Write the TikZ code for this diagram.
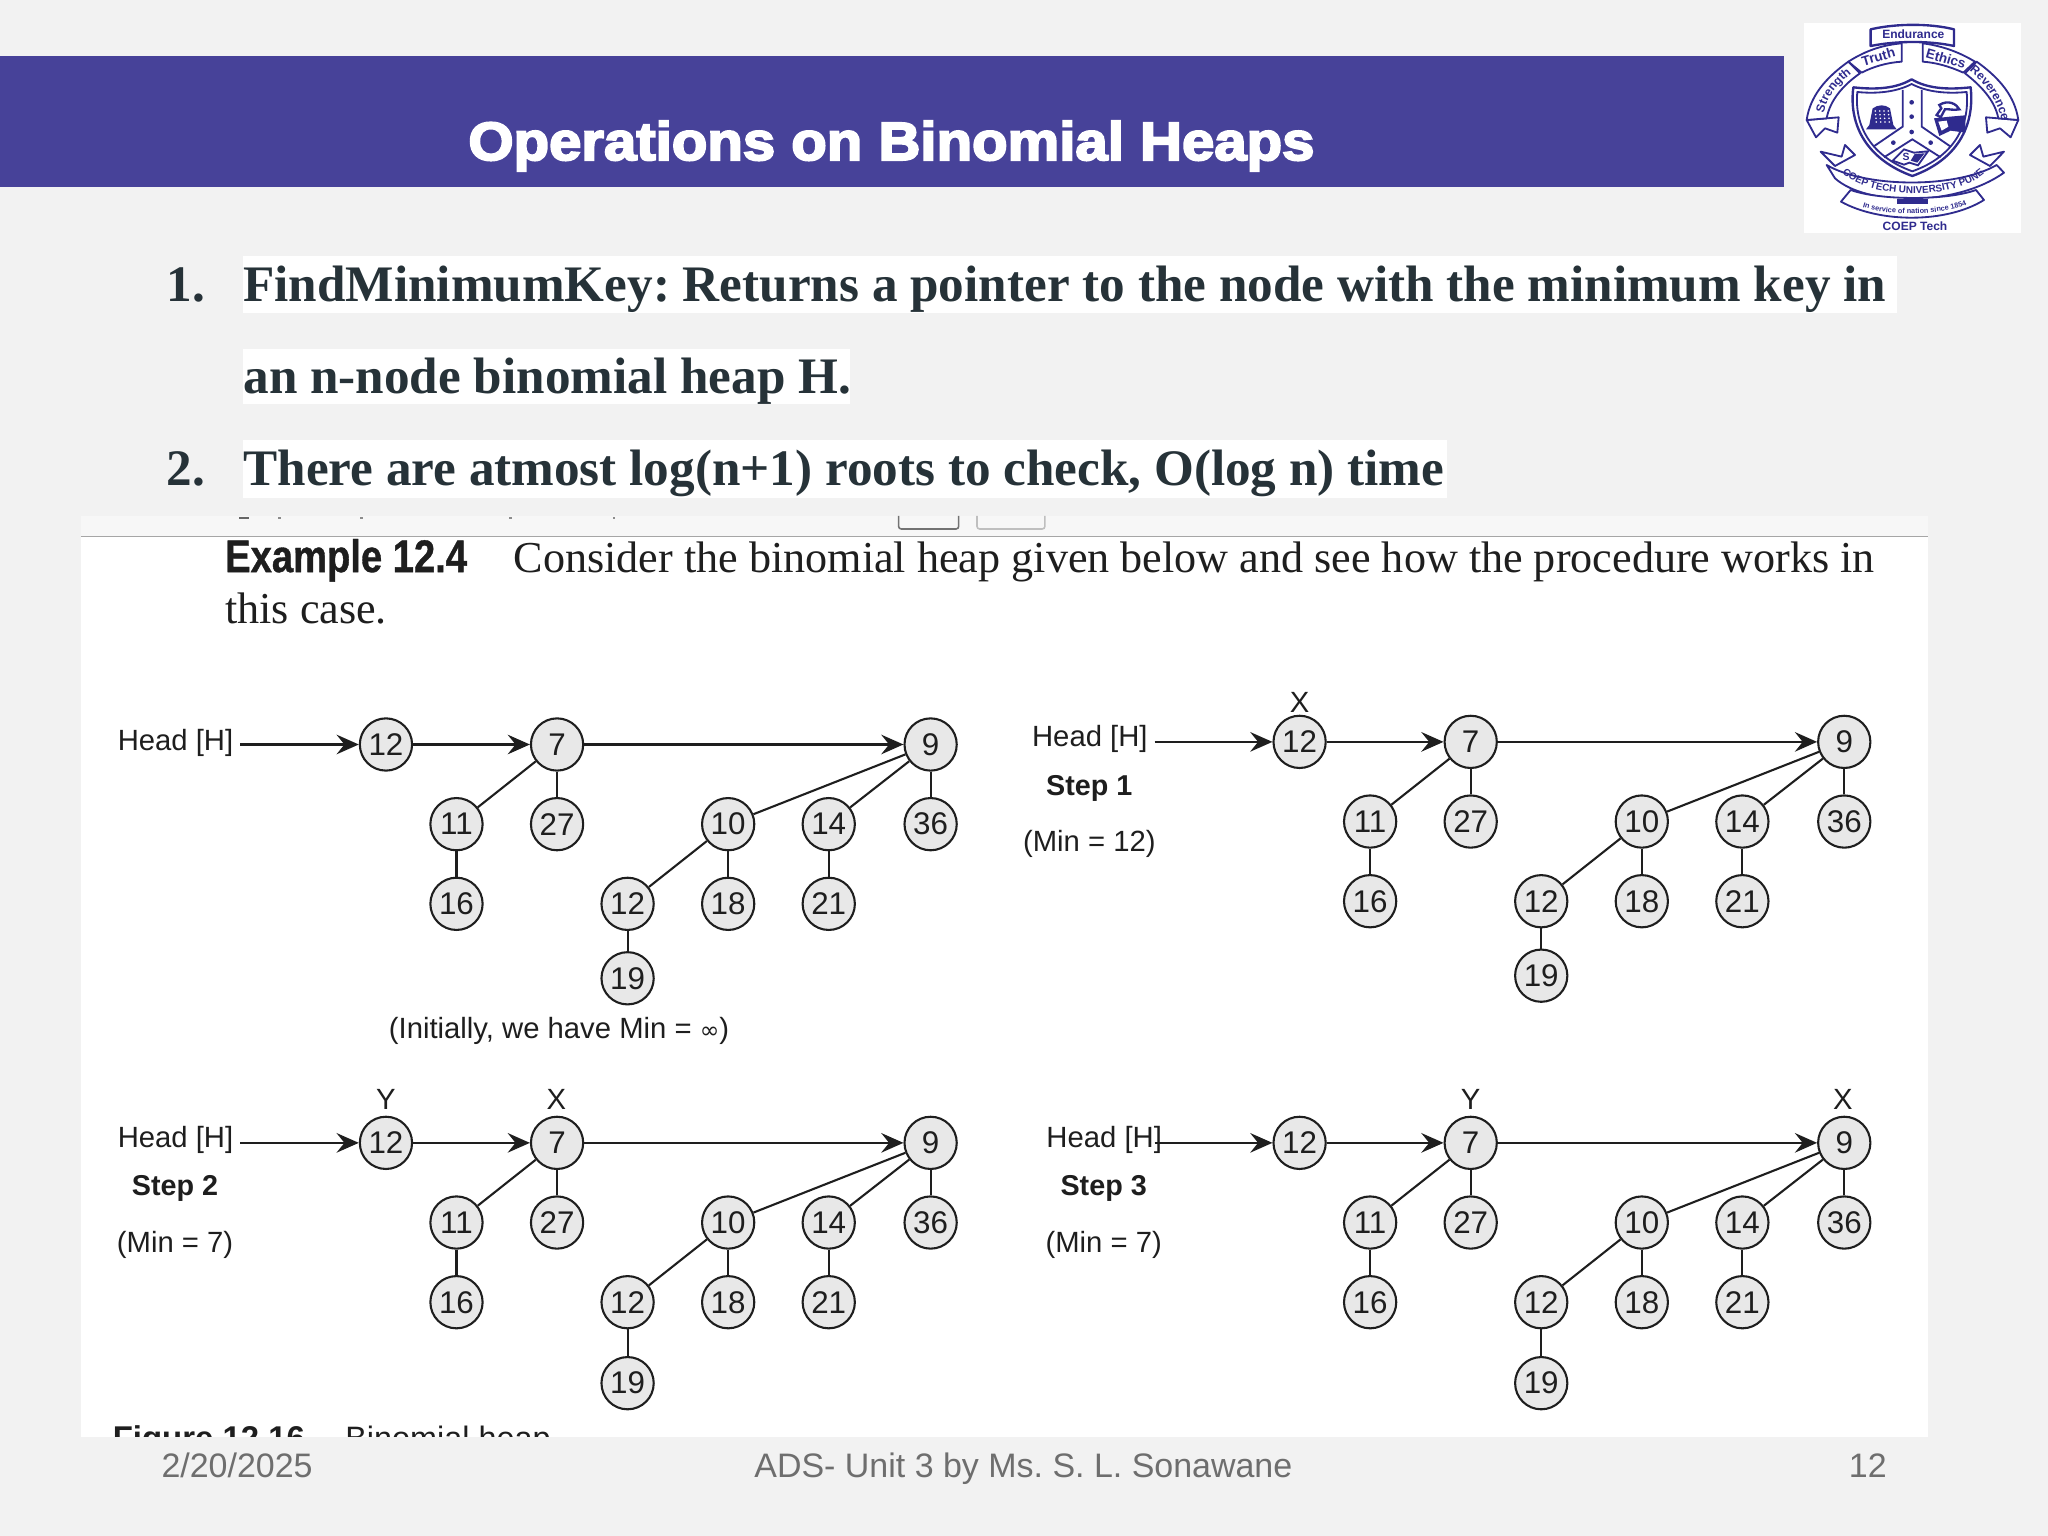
\documentclass[tikz,border=0pt]{standalone}
\usepackage{fontspec}
\setmainfont{Liberation Serif}
\setsansfont{Liberation Sans}
\newfontfamily\titlef{Liberation Sans}[BoldFeatures={FakeBold=3.8,FakeStretch=1.08}]
\newfontfamily\exf{Liberation Sans}[BoldFeatures={FakeBold=0.8},FakeStretch=0.835]
\newfontfamily\symf{DejaVu Sans}
\usetikzlibrary{arrows.meta,decorations.text}
\definecolor{bgc}{HTML}{F2F2F2}
\definecolor{barc}{HTML}{474299}
\definecolor{bodyc}{HTML}{263238}
\definecolor{footc}{HTML}{6E6E6E}
\definecolor{navy}{HTML}{2F2B8E}
\definecolor{nodec}{HTML}{E8E8E8}
\definecolor{inkc}{HTML}{1E1E1E}
\tikzset{
  hn/.style={circle,draw=inkc,line width=0.8pt,fill=nodec,minimum size=20pt,inner sep=0pt,font=\sffamily\fontsize{12}{12}\selectfont,text=inkc},
  hl/.style={draw=inkc,line width=0.8pt},
  ha/.style={draw=inkc,line width=0.8pt,-{Stealth[length=8.5pt,width=7.5pt,inset=3pt]}},
  lab/.style={font=\sffamily\fontsize{11.2}{13}\selectfont,text=inkc,inner sep=1pt},
  labb/.style={font=\sffamily\bfseries\fontsize{11}{13}\selectfont,text=inkc,inner sep=1pt},
  bodyt/.style={anchor=base west,inner sep=0pt,text=bodyc,font=\bfseries\fontsize{19.6}{19}\selectfont},
  foot/.style={anchor=base,inner sep=0pt,text=footc,font=\sffamily\fontsize{13}{14}\selectfont},
  bk/.style={anchor=base west,inner sep=0pt,text=inkc,font=\fontsize{16.9}{17}\selectfont},
  hil/.style={fill=white,draw=none},
  lg/.style={draw=navy,line width=0.7pt,fill=white,line join=round},
  lgt/.style={text=navy,inner sep=0pt,font=\sffamily\bfseries\fontsize{4.6}{5}\selectfont},
}
% #1 prefix, #2 dx, #3..#6 row ys
\newcommand{\heaptree}[6]{%
  \node[hn] (#1a) at (295+#2,#3) {12};
  \node[hn] (#1b) at (426+#2,#3) {7};
  \node[hn] (#1c) at (712+#2,#3) {9};
  \node[hn] (#1d) at (349+#2,#4) {11};
  \node[hn] (#1e) at (426+#2,#4) {27};
  \node[hn] (#1f) at (557+#2,#4) {10};
  \node[hn] (#1g) at (634+#2,#4) {14};
  \node[hn] (#1h) at (712+#2,#4) {36};
  \node[hn] (#1i) at (349+#2,#5) {16};
  \node[hn] (#1j) at (480+#2,#5) {12};
  \node[hn] (#1k) at (557+#2,#5) {18};
  \node[hn] (#1l) at (634+#2,#5) {21};
  \node[hn] (#1m) at (480+#2,#6) {19};
  \draw[ha] (#1a) -- (#1b);
  \draw[ha] (#1b) -- (#1c);
  \draw[hl] (#1b) -- (#1d);
  \draw[hl] (#1b) -- (#1e);
  \draw[hl] (#1c) -- (#1f);
  \draw[hl] (#1c) -- (#1g);
  \draw[hl] (#1c) -- (#1h);
  \draw[hl] (#1d) -- (#1i);
  \draw[hl] (#1f) -- (#1j);
  \draw[hl] (#1f) -- (#1k);
  \draw[hl] (#1g) -- (#1l);
  \draw[hl] (#1j) -- (#1m);
}
\frenchspacing
\begin{document}
\begin{tikzpicture}[x=0.5pt,y=-0.5pt]
\useasboundingbox (0,0) rectangle (1568,1176);
\fill[bgc] (0,0) rectangle (1568,1176);
% title bar
\fill[barc] (0,43) rectangle (1366,143);
\node[anchor=base,text=white,inner sep=0pt,font=\titlef\bfseries\fontsize{20.6}{22}\selectfont] (title) at (682.5,122.5) {Operations on Binomial Heaps};
% body
\fill[hil] (186,196) rectangle (1452,240);
\fill[hil] (186,267) rectangle (651,309);
\fill[hil] (186,337) rectangle (1108,381);
\node[bodyt] (n1) at (127,230.5) {1.};
\node[bodyt] (l1) at (186,230.5) {FindMinimumKey: Returns a pointer to the node with the minimum key in};
\node[bodyt] (l2) at (186,301.5) {an n-node binomial heap H.};
\node[bodyt] (n2) at (127,371.5) {2.};
\node[bodyt] (l3) at (186,371.5) {There are atmost log(n+1) roots to check, O(log n) time};
% book scan
\fill[white] (62,395) rectangle (1476,1100);
\fill[white!97!black] (62,395) rectangle (1476,411);
\draw[black!35,line width=0.5pt] (62,411) -- (1476,411);
\draw[black!55,line width=0.6pt,rounded corners=1pt] (688,395) -- (688,405) -- (734,405) -- (734,395);
\draw[black!25,line width=0.6pt,rounded corners=1pt] (748,395) -- (748,405) -- (800,405) -- (800,395);
\fill[black!60] (183,396) rectangle (191,397.5);
\foreach \mx in {213,276,390,469}{\fill[black!45] (\mx,396) rectangle (\mx+2,397.5);}
\node[anchor=base west,inner sep=0pt,text=inkc,font=\exf\bfseries\fontsize{17.5}{18}\selectfont] (ex) at (172,438) {Example 12.4};
\node[bk] (ex1) at (393,438.5) {Consider the binomial heap given below and see how the procedure works in};
\node[bk] (ex2) at (172,477.5) {this case.};
\begin{scope}
\clip (62,395) rectangle (1476,1100);
\node[anchor=base west,inner sep=0pt,text=inkc,font=\sffamily\bfseries\fontsize{12.6}{12}\selectfont] (fig) at (86,1110) {Figure 12.16};
\node[anchor=base west,inner sep=0pt,text=inkc,font=\sffamily\fontsize{12.4}{12}\selectfont] (figb) at (264,1110) {Binomial heap};
\end{scope}
% heaps
\heaptree{p}{0.5}{570}{631}{692}{749}
\heaptree{q}{700}{568}{629}{690}{747}
\heaptree{r}{0.5}{875}{936}{997}{1059}
\heaptree{s}{700}{875}{936}{997}{1059}
% labels
\node[lab,anchor=east] (ph) at (181,569) {Head [H]};
\coordinate (pfrom) at (184,570);
\draw[ha] (pfrom) -- (pa);
\node[lab] (pmin) at (428,789) {(Initially, we have Min = {\symf\fontsize{9}{9}\selectfont ∞})};
\node[lab,anchor=east] (qh) at (881,566) {Head [H]};
\coordinate (qfrom) at (884,568);
\draw[ha] (qfrom) -- (qa);
\node[labb] (qs) at (834,604) {Step 1};
\node[lab] (qm) at (834,646) {(Min = 12)};
\node[lab] (qx) at (995,538) {X};
\node[lab,anchor=east] (rh) at (181,873) {Head [H]};
\coordinate (rfrom) at (184,875);
\draw[ha] (rfrom) -- (ra);
\node[labb] (rs) at (134,910) {Step 2};
\node[lab] (rm) at (134,953) {(Min = 7)};
\node[lab] (ry) at (295.5,842) {Y};
\node[lab] (rx) at (426,842) {X};
\node[lab,anchor=east] (sh) at (892,873) {Head [H]};
\coordinate (sfrom) at (884,875);
\draw[ha] (sfrom) -- (sa);
\node[labb] (ss) at (845,910) {Step 3};
\node[lab] (sm) at (845,953) {(Min = 7)};
\node[lab] (sy) at (1126,842) {Y};
\node[lab] (sx) at (1411,842) {X};
% footer
\node[foot] (f1) at (181.5,1131) {2/20/2025};
\node[foot] (f2) at (783.5,1131) {ADS- Unit 3 by Ms. S. L. Sonawane};
\node[foot] (f3) at (1430,1131) {12};
% logo
\begin{scope}[shift={(1362.8,7.66)},x=0.1276pt,y=-0.1276pt]
\fill[white] (72,38) rectangle (722,668);
% tails
\draw[lg] (80,330) -- (108,382) -- (135,355) -- (172,368) -- (176,322) -- cycle;
\draw[lg] (715,330) -- (692,382) -- (660,355) -- (622,368) -- (618,322) -- cycle;
\draw[lg] (185,440) -- (122,425) -- (165,468) -- (225,435) -- (195,405) -- cycle;
\draw[lg] (610,440) -- (672,425) -- (630,468) -- (570,435) -- (600,405) -- cycle;
% banners
\draw[lg,line width=0.9pt] (272,108) .. controls (350,92) and (450,92) .. (522,108) -- (522,58) .. controls (450,40) and (350,40) .. (272,58) -- cycle;
\node[lgt] (e1) at (400,72) {Endurance};
\draw[lg] (205,155) .. controls (260,120) and (310,105) .. (365,100) -- (365,155) .. controls (320,158) and (280,170) .. (245,188) -- cycle;
\node[lgt,rotate=16,font=\sffamily\bfseries\fontsize{5.2}{5}\selectfont] (e2) at (295,140) {Truth};
\draw[lg] (428,100) .. controls (490,108) and (540,128) .. (585,155) -- (550,188) .. controls (510,170) and (470,158) .. (428,155) -- cycle;
\node[lgt,rotate=-16,font=\sffamily\bfseries\fontsize{5.2}{5}\selectfont] (e3) at (498,146) {Ethics};
\draw[lg] (205,155) .. controls (135,205) and (90,260) .. (80,330) -- (140,325) .. controls (150,270) and (190,225) .. (240,190) -- cycle;
\path[decorate,decoration={text along path,text align=center,text={|\sffamily\bfseries\fontsize{4.6}{5}\selectfont\color{navy}|Strength}}] (131,310) .. controls (140,265) and (170,225) .. (215,190);
\draw[lg] (590,155) .. controls (660,205) and (705,260) .. (715,330) -- (655,325) .. controls (645,270) and (600,225) .. (555,190) -- cycle;
\path[decorate,decoration={text along path,text align=center,text={|\sffamily\bfseries\fontsize{4.6}{5}\selectfont\color{navy}|Reverence}}] (570,185) .. controls (615,220) and (650,270) .. (665,330);
% shield
\draw[lg,line width=0.9pt] (220,232) .. controls (290,240) and (350,235) .. (395,208) .. controls (440,235) and (500,240) .. (572,232) .. controls (585,350) and (530,450) .. (397,498) .. controls (265,450) and (205,350) .. (220,232) -- cycle;
\draw[lg,line width=0.7pt] (232,246) .. controls (290,252) and (350,246) .. (395,222) .. controls (440,246) and (500,252) .. (560,246) .. controls (570,350) and (520,440) .. (397,484) .. controls (275,440) and (222,350) .. (232,246) -- cycle;
\draw[navy,line width=0.7pt] (368,240) -- (368,350) -- (280,410);
\draw[navy,line width=0.7pt] (425,240) -- (425,350) -- (512,410);
\draw[navy,line width=0.7pt] (312,442) -- (397,388) -- (482,442);
\foreach \px/\py in {395/277,395/320,395/366,340/398,452/398}{\fill[navy] (\px,\py) circle (7);}
% anvil figure
\fill[navy] (258,358) -- (350,358) -- (340,345) -- (330,295) .. controls (315,283) and (295,283) .. (278,295) -- (268,345) -- cycle;
\foreach \i in {0,1,2,3}{\foreach \j in {0,1,2,3}{\fill[white] (286+\i*13+\j*1,303+\j*11) circle (2.6);}}
% hand and tool
\fill[navy] (462,325) -- (510,320) -- (556,316) -- (556,368) -- (512,362) -- (478,378) -- cycle;
\fill[white] (475,335) -- (500,332) -- (505,350) -- (485,362) -- cycle;
\draw[navy,line width=0.9pt,fill=white] (478,285) .. controls (505,268) and (530,282) .. (538,298) .. controls (520,302) and (505,296) .. (495,298) -- (482,322) -- (470,315) -- (484,295) -- cycle;
% book
\draw[navy,line width=0.7pt,fill=white] (338,452) -- (372,418) -- (402,428) -- (444,424) -- (414,466) -- (388,458) -- (372,464) -- cycle;
\fill[navy] (404,432) -- (434,430) -- (412,458) -- (392,452) -- cycle;
\node[lgt,font=\sffamily\bfseries\fontsize{4}{4}\selectfont] (e6) at (378,440) {S};
% lower scroll
\draw[lg] (140,465) .. controls (260,535) and (530,535) .. (650,465) -- (672,488) .. controls (530,590) and (260,590) .. (165,505) -- cycle;
\path[decorate,decoration={text along path,text align=center,text={|\sffamily\bfseries\fontsize{3.8}{4}\selectfont\color{navy}|COEP TECH UNIVERSITY PUNE}}] (188,492) .. controls (280,570) and (520,570) .. (612,492);
\draw[lg] (212,540) .. controls (300,572) and (500,572) .. (588,540) -- (612,570) .. controls (500,640) and (300,640) .. (183,575) -- cycle;
\fill[navy] (350,568) rectangle (445,582);
\path[decorate,decoration={text along path,text align=center,text={|\sffamily\bfseries\fontsize{2.8}{3}\selectfont\color{navy}|In service of nation since 1854}}] (218,580) .. controls (300,622) and (500,622) .. (590,572);
\node[lgt,font=\sffamily\bfseries\fontsize{4.6}{5}\selectfont] (e7) at (405,648) {COEP Tech};
\end{scope}
\end{tikzpicture}
\end{document}
